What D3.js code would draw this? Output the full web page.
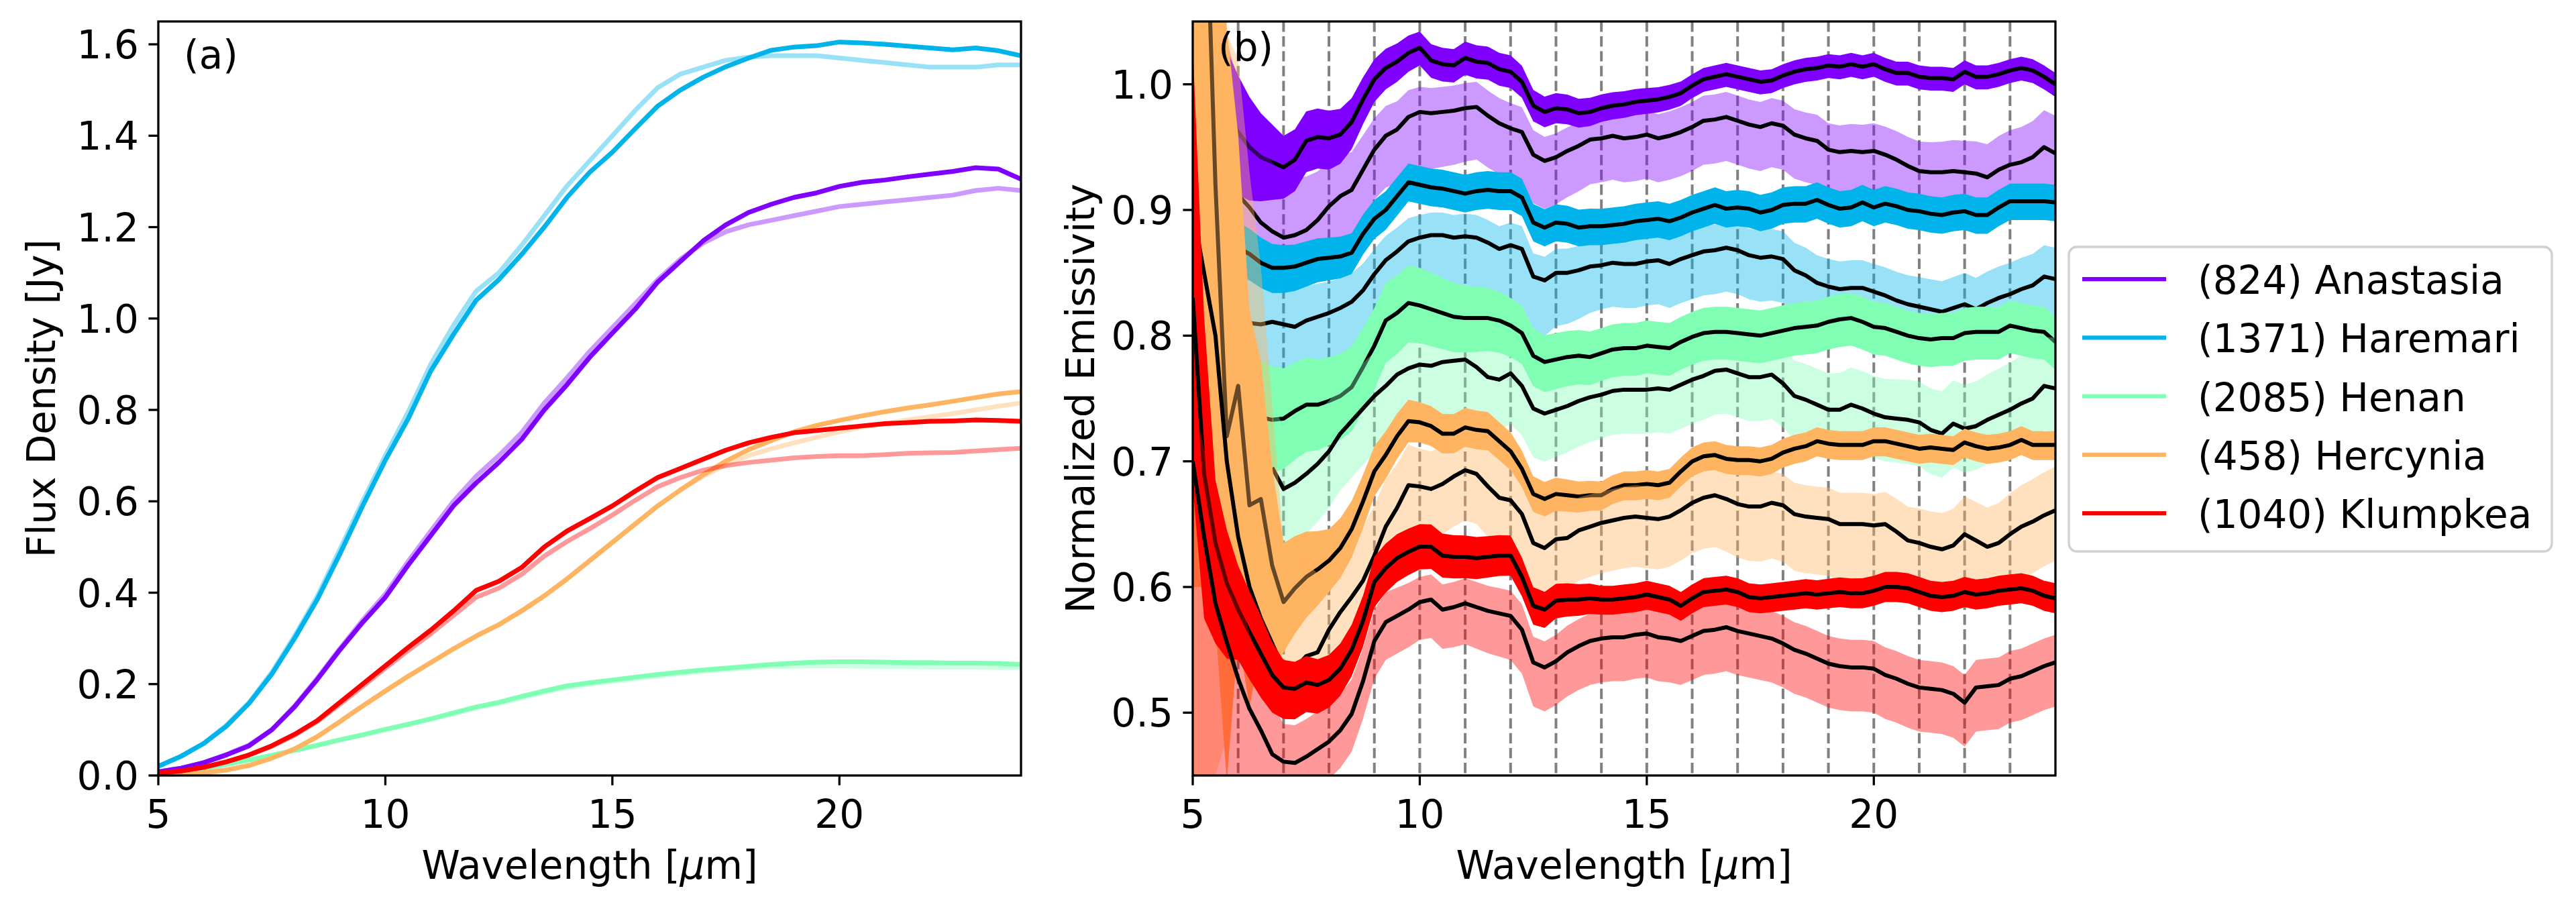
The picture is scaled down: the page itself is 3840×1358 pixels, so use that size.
<!DOCTYPE html>
<html><head><meta charset="utf-8">
<script src="https://cdn.jsdelivr.net/npm/d3@7/dist/d3.min.js"></script>
<style>
body{margin:0;background:#fff}
svg{display:block}
text{font-family:"DejaVu Sans",sans-serif;fill:#000}
</style>
</head><body>
<script>
// ---------------- DATA ----------------
const asteroids = ["(824) Anastasia","(1371) Haremari","(2085) Henan","(458) Hercynia","(1040) Klumpkea"];
const colors = ["#8000ff","#00b4eb","#80ffb4","#ffb462","#ff0000"];
const xTickValues = [5,10,15,20];
const yTicksA = [0.0,0.2,0.4,0.6,0.8,1.0,1.2,1.4,1.6];
const yTicksB = [0.5,0.6,0.7,0.8,0.9,1.0];
const featureLines = [6,7,8,9,10,11,12,13,14,15,16,17,18,19,20,21,22,23];

// panel (a): wavelength grid and flux densities [Jy]
const waveA = [5,5.5,6,6.5,7,7.5,8,8.5,9,9.5,10,10.5,11,11.5,12,12.5,13,13.5,14,14.5,15,15.5,16,16.5,17,17.5,18,18.5,19,19.5,20,20.5,21,21.5,22,22.5,23,23.5,24];
const fluxAnastasia  = [0.008,0.016,0.028,0.045,0.065,0.10,0.15,0.21,0.275,0.335,0.39,0.46,0.525,0.59,0.64,0.685,0.735,0.80,0.855,0.915,0.968,1.02,1.08,1.125,1.17,1.205,1.232,1.25,1.265,1.275,1.289,1.298,1.303,1.31,1.316,1.322,1.33,1.327,1.305];
const fluxAnastasiaL = [0.008,0.016,0.028,0.046,0.067,0.10,0.152,0.213,0.278,0.34,0.397,0.468,0.535,0.60,0.655,0.70,0.75,0.815,0.87,0.928,0.98,1.032,1.085,1.13,1.165,1.19,1.205,1.215,1.225,1.235,1.245,1.25,1.255,1.26,1.265,1.27,1.28,1.285,1.28];
const fluxHaremari   = [0.02,0.042,0.07,0.108,0.158,0.222,0.30,0.385,0.485,0.59,0.69,0.78,0.885,0.965,1.04,1.085,1.14,1.20,1.265,1.32,1.364,1.415,1.465,1.50,1.528,1.551,1.57,1.587,1.594,1.597,1.605,1.603,1.60,1.596,1.592,1.588,1.592,1.586,1.575];
const fluxHaremariL  = [0.02,0.042,0.07,0.11,0.16,0.226,0.305,0.392,0.495,0.60,0.70,0.795,0.90,0.985,1.06,1.10,1.16,1.225,1.29,1.345,1.40,1.455,1.505,1.535,1.55,1.565,1.572,1.575,1.575,1.575,1.57,1.565,1.56,1.555,1.55,1.55,1.55,1.555,1.555];
const fluxHenan      = [0.003,0.008,0.015,0.025,0.034,0.044,0.055,0.066,0.078,0.089,0.101,0.112,0.124,0.137,0.15,0.16,0.173,0.185,0.196,0.203,0.209,0.215,0.221,0.226,0.231,0.235,0.239,0.243,0.246,0.248,0.249,0.249,0.248,0.247,0.247,0.246,0.246,0.245,0.243];
const fluxHenanL     = [0.003,0.008,0.015,0.025,0.034,0.044,0.055,0.066,0.078,0.089,0.10,0.111,0.123,0.135,0.148,0.158,0.17,0.182,0.193,0.20,0.206,0.212,0.218,0.223,0.228,0.232,0.236,0.238,0.239,0.24,0.24,0.239,0.238,0.238,0.237,0.237,0.237,0.236,0.236];
const fluxHercynia   = [0.0,0.002,0.006,0.012,0.022,0.038,0.058,0.085,0.118,0.152,0.185,0.217,0.247,0.277,0.305,0.33,0.36,0.393,0.43,0.47,0.51,0.55,0.59,0.625,0.658,0.688,0.713,0.733,0.752,0.766,0.777,0.787,0.796,0.804,0.811,0.819,0.827,0.835,0.84];
const fluxHercyniaL  = [0.0,0.002,0.006,0.012,0.022,0.038,0.058,0.085,0.118,0.152,0.185,0.217,0.247,0.277,0.305,0.33,0.36,0.393,0.43,0.47,0.51,0.55,0.59,0.625,0.655,0.68,0.70,0.715,0.728,0.74,0.752,0.762,0.77,0.778,0.785,0.792,0.80,0.808,0.815];
const fluxKlumpkea   = [0.005,0.01,0.018,0.03,0.045,0.065,0.09,0.12,0.16,0.20,0.24,0.28,0.318,0.36,0.405,0.425,0.455,0.50,0.535,0.562,0.59,0.622,0.652,0.672,0.692,0.712,0.728,0.74,0.75,0.755,0.76,0.765,0.77,0.772,0.775,0.776,0.778,0.777,0.775];
const fluxKlumpkeaL  = [0.005,0.01,0.018,0.03,0.045,0.064,0.088,0.118,0.156,0.195,0.235,0.273,0.31,0.35,0.39,0.41,0.44,0.48,0.512,0.54,0.57,0.602,0.632,0.652,0.668,0.678,0.685,0.69,0.695,0.698,0.70,0.70,0.702,0.705,0.706,0.707,0.71,0.713,0.716];

// panel (b): wavelength grid and normalized emissivities (smoothed)
const waveB = [5,5.25,5.5,5.75,6,6.25,6.5,6.75,7,7.25,7.5,7.75,8,8.25,8.5,8.75,9,9.25,9.5,9.75,10,10.25,10.5,10.75,11,11.25,11.5,11.75,12,12.25,12.5,12.75,13,13.25,13.5,13.75,14,14.25,14.5,14.75,15,15.25,15.5,15.75,16,16.25,16.5,16.75,17,17.25,17.5,17.75,18,18.25,18.5,18.75,19,19.25,19.5,19.75,20,20.25,20.5,20.75,21,21.25,21.5,21.75,22,22.25,22.5,22.75,23,23.25,23.5,23.75,24];
const emisAnastasia = [null,null,null,0.975, 0.962,0.950,0.942,0.938, 0.934,0.940,0.955,0.958, 0.957,0.960,0.970,0.988, 1.004,1.013,1.018,1.025, 1.029,1.019,1.016,1.015, 1.021,1.018,1.017,1.012, 1.010,1.002,0.983,0.978, 0.981,0.980,0.977,0.978, 0.981,0.983,0.984,0.986, 0.987,0.988,0.990,0.993, 0.999,1.004,1.006,1.008, 1.006,1.004,1.002,1.003, 1.007,1.010,1.012,1.013, 1.015,1.014,1.016,1.014, 1.016,1.012,1.009,1.009, 1.006,1.005,1.005,1.004, 1.010,1.006,1.006,1.008, 1.011,1.013,1.011,1.006, 1.000];
const emisAnastasiaL = [null,null,null,0.930, 0.912,0.902,0.890,0.883, 0.878,0.880,0.884,0.892, 0.903,0.911,0.916,0.932, 0.948,0.959,0.964,0.974, 0.978,0.977,0.978,0.979, 0.981,0.982,0.975,0.969, 0.965,0.962,0.944,0.939, 0.942,0.947,0.951,0.956, 0.957,0.959,0.957,0.958, 0.960,0.957,0.959,0.962, 0.966,0.971,0.972,0.974, 0.971,0.968,0.966,0.969, 0.967,0.960,0.957,0.955, 0.948,0.946,0.947,0.946, 0.947,0.944,0.940,0.935, 0.931,0.930,0.930,0.931, 0.930,0.929,0.926,0.932, 0.936,0.938,0.942,0.950, 0.945];
const emisHaremari = [null,null,null,null, 0.870,0.865,0.858,0.854, 0.854,0.855,0.858,0.861, 0.862,0.863,0.866,0.881, 0.893,0.900,0.911,0.922, 0.920,0.918,0.917,0.915, 0.913,0.915,0.916,0.915, 0.915,0.910,0.890,0.886, 0.890,0.889,0.886,0.887, 0.887,0.888,0.889,0.891, 0.892,0.893,0.891,0.894, 0.898,0.901,0.904,0.901, 0.902,0.901,0.898,0.900, 0.904,0.905,0.905,0.908, 0.904,0.901,0.902,0.906, 0.902,0.905,0.903,0.900, 0.899,0.897,0.896,0.898, 0.899,0.896,0.896,0.902, 0.907,0.907,0.907,0.907, 0.906];
const emisHaremariL = [null,null,null,null, 0.809,0.810,0.809,0.811, 0.809,0.807,0.812,0.815, 0.818,0.822,0.827,0.836, 0.849,0.860,0.867,0.875, 0.878,0.880,0.880,0.878, 0.879,0.878,0.874,0.869, 0.872,0.869,0.847,0.844, 0.850,0.850,0.852,0.855, 0.856,0.858,0.857,0.857, 0.859,0.860,0.857,0.861, 0.864,0.867,0.868,0.870, 0.868,0.864,0.862,0.863, 0.861,0.852,0.848,0.842, 0.839,0.837,0.838,0.838, 0.835,0.832,0.828,0.825, 0.823,0.821,0.819,0.822, 0.825,0.821,0.826,0.830, 0.833,0.837,0.840,0.847, 0.845];
const emisHenan = [null,null,null,null, null,null,0.735,0.733, 0.734,0.740,0.745,0.745, 0.748,0.752,0.759,0.775, 0.792,0.812,0.818,0.826, 0.824,0.821,0.818,0.815, 0.814,0.814,0.814,0.812, 0.808,0.802,0.784,0.779, 0.781,0.783,0.784,0.783, 0.786,0.789,0.790,0.790, 0.792,0.791,0.790,0.795, 0.799,0.802,0.803,0.803, 0.802,0.801,0.800,0.802, 0.804,0.806,0.807,0.808, 0.811,0.813,0.814,0.811, 0.807,0.806,0.803,0.800, 0.798,0.797,0.798,0.798, 0.802,0.803,0.803,0.803, 0.808,0.806,0.804,0.803, 0.795];
const emisHenanL = [null,null,null,null, null,null,null,0.695, 0.678,0.683,0.690,0.698, 0.708,0.722,0.732,0.742, 0.752,0.760,0.769,0.774, 0.777,0.776,0.779,0.780, 0.781,0.775,0.767,0.765, 0.770,0.760,0.742,0.738, 0.741,0.744,0.748,0.751, 0.753,0.756,0.757,0.757, 0.757,0.758,0.757,0.761, 0.765,0.768,0.772,0.773, 0.770,0.767,0.767,0.769, 0.762,0.752,0.749,0.745, 0.741,0.741,0.745,0.742, 0.738,0.735,0.734,0.733, 0.731,0.725,0.722,0.730, 0.726,0.728,0.733,0.737, 0.741,0.746,0.750,0.760, 0.758];
const emisHercynia = [1.45,1.20,0.92,0.72, 0.76,0.665,0.67,0.617, 0.588,0.599,0.608,0.614, 0.621,0.631,0.646,0.668, 0.692,0.705,0.720,0.732, 0.731,0.728,0.722,0.722, 0.727,0.725,0.724,0.716, 0.708,0.694,0.674,0.670, 0.674,0.673,0.672,0.673, 0.673,0.678,0.681,0.681, 0.682,0.681,0.683,0.692, 0.700,0.704,0.705,0.702, 0.701,0.701,0.700,0.702, 0.707,0.710,0.712,0.716, 0.714,0.713,0.713,0.713, 0.716,0.716,0.714,0.712, 0.710,0.711,0.710,0.709, 0.715,0.712,0.710,0.711, 0.713,0.717,0.713,0.713, 0.713];
const emisHercyniaL = [0.90,0.85,0.80,0.70, 0.64,0.60,0.575,0.555, 0.535,0.535,0.545,0.548, 0.566,0.580,0.592,0.605, 0.625,0.648,0.663,0.681, 0.680,0.678,0.682,0.688, 0.693,0.690,0.680,0.671, 0.669,0.658,0.635,0.631, 0.638,0.639,0.645,0.648, 0.651,0.653,0.655,0.656, 0.655,0.654,0.656,0.661, 0.667,0.671,0.673,0.670, 0.666,0.664,0.664,0.667, 0.665,0.658,0.656,0.655, 0.654,0.650,0.650,0.650, 0.649,0.650,0.644,0.637, 0.635,0.632,0.630,0.633, 0.642,0.637,0.632,0.635, 0.642,0.648,0.652,0.657, 0.661];
const emisKlumpkea = [0.83,0.69,0.635,0.603, 0.582,0.564,0.547,0.530, 0.520,0.519,0.524,0.522, 0.526,0.535,0.550,0.573, 0.604,0.615,0.623,0.628, 0.632,0.632,0.625,0.624, 0.624,0.623,0.624,0.625, 0.625,0.608,0.585,0.582, 0.589,0.590,0.590,0.591, 0.590,0.590,0.591,0.592, 0.594,0.592,0.590,0.585, 0.591,0.596,0.597,0.598, 0.596,0.592,0.591,0.592, 0.593,0.594,0.595,0.594, 0.595,0.596,0.595,0.595, 0.597,0.600,0.600,0.599, 0.596,0.593,0.592,0.593, 0.596,0.594,0.595,0.597, 0.598,0.599,0.597,0.593, 0.591];
const emisKlumpkeaL = [0.70,0.64,0.587,0.556, 0.527,0.503,0.486,0.467, 0.461,0.460,0.465,0.471, 0.477,0.486,0.499,0.525, 0.557,0.572,0.577,0.582, 0.588,0.590,0.582,0.584, 0.587,0.584,0.581,0.579, 0.577,0.566,0.540,0.536, 0.541,0.548,0.553,0.557, 0.559,0.560,0.560,0.562, 0.563,0.560,0.559,0.557, 0.561,0.565,0.566,0.568, 0.565,0.563,0.561,0.559, 0.555,0.550,0.547,0.543, 0.539,0.537,0.536,0.536, 0.535,0.530,0.527,0.523, 0.520,0.519,0.518,0.515, 0.508,0.520,0.521,0.522, 0.527,0.529,0.533,0.537, 0.540];

// panel (b): scatter envelope of the raw spectra around the smoothed curves (emissivity units)
const scatterNodes = [5,5.5,6,6.5,7,8,9,10,12,14,16,18,20,22,24];
const scatterUpAnastasia    = [0.06,0.06,0.045,0.035,0.025,0.022,0.016,0.013,0.013,0.011,0.009,0.009,0.009,0.009,0.009];
const scatterDownAnastasia  = [0.06,0.06,0.05,0.035,0.025,0.025,0.018,0.014,0.013,0.011,0.010,0.010,0.010,0.010,0.010];
const scatterUpAnastasiaL   = [0.12,0.12,0.09,0.06,0.05,0.035,0.025,0.02,0.02,0.018,0.02,0.02,0.022,0.025,0.03];
const scatterDownAnastasiaL = [0.05,0.05,0.05,0.035,0.03,0.035,0.04,0.045,0.04,0.035,0.035,0.035,0.035,0.035,0.035];
const scatterUpHaremari     = [0.02,0.02,0.02,0.02,0.018,0.016,0.015,0.015,0.015,0.014,0.014,0.014,0.014,0.014,0.014];
const scatterDownHaremari   = [0.022,0.022,0.022,0.02,0.02,0.018,0.016,0.015,0.015,0.015,0.015,0.015,0.015,0.015,0.015];
const scatterUpHaremariL    = [0.04,0.04,0.04,0.035,0.03,0.025,0.02,0.018,0.018,0.02,0.02,0.022,0.022,0.025,0.025];
const scatterDownHaremariL  = [0.05,0.05,0.05,0.045,0.04,0.045,0.05,0.05,0.05,0.035,0.035,0.035,0.035,0.035,0.035];
const scatterUpHenan        = [0.05,0.05,0.05,0.045,0.04,0.035,0.03,0.03,0.022,0.02,0.02,0.02,0.02,0.02,0.02];
const scatterDownHenan      = [0.05,0.05,0.05,0.045,0.04,0.035,0.035,0.03,0.025,0.022,0.022,0.022,0.022,0.022,0.022];
const scatterUpHenanL       = [0.05,0.05,0.05,0.05,0.05,0.04,0.035,0.03,0.03,0.028,0.028,0.028,0.03,0.035,0.04];
const scatterDownHenanL     = [0.05,0.05,0.05,0.05,0.05,0.045,0.045,0.045,0.04,0.035,0.035,0.035,0.035,0.035,0.035];
const scatterUpHercynia     = [0.3,0.45,0.2,0.11,0.047,0.025,0.02,0.016,0.015,0.011,0.011,0.011,0.011,0.011,0.011];
const scatterDownHercynia   = [0.85,0.35,0.2,0.12,0.04,0.025,0.02,0.016,0.015,0.012,0.012,0.012,0.012,0.012,0.012];
const scatterUpHercyniaL    = [0.3,0.3,0.38,0.28,0.1,0.05,0.04,0.03,0.03,0.025,0.025,0.025,0.025,0.03,0.035];
const scatterDownHercyniaL  = [0.45,0.35,0.09,0.05,0.04,0.04,0.04,0.04,0.04,0.04,0.04,0.045,0.045,0.045,0.04];
const scatterUpKlumpkea     = [0.2,0.05,0.035,0.03,0.022,0.02,0.02,0.018,0.016,0.011,0.011,0.011,0.012,0.012,0.012];
const scatterDownKlumpkea   = [0.15,0.08,0.04,0.035,0.025,0.022,0.02,0.018,0.016,0.012,0.012,0.012,0.012,0.012,0.012];
const scatterUpKlumpkeaL    = [0.05,0.09,0.07,0.05,0.03,0.03,0.025,0.02,0.02,0.022,0.022,0.022,0.022,0.022,0.022];
const scatterDownKlumpkeaL  = [0.3,0.15,0.09,0.045,0.03,0.03,0.03,0.03,0.035,0.035,0.035,0.035,0.035,0.035,0.035];

// ---------------- CHART ----------------
const W = 3840, H = 1358;
const svg = d3.select("body").append("svg").attr("width", W).attr("height", H);
const FS = 58, TICK = 14.6, PAD = 14.6, SPINE = 3.3;

const pA = {l:236, r:1522, t:32, b:1156};
const pB = {l:1778, r:3064, t:32, b:1156};
const xA = d3.scaleLinear().domain([5,24]).range([pA.l,pA.r]);
const yA = d3.scaleLinear().domain([0,1.65]).range([pA.b,pA.t]);
const xB = d3.scaleLinear().domain([5,24]).range([pB.l,pB.r]);
const yB = d3.scaleLinear().domain([0.45,1.05]).range([pB.b,pB.t]);

const defs = svg.append("defs");
defs.append("clipPath").attr("id","clipA").append("rect").attr("x",pA.l).attr("y",pA.t).attr("width",pA.r-pA.l).attr("height",pA.b-pA.t);
defs.append("clipPath").attr("id","clipB").append("rect").attr("x",pB.l).attr("y",pB.t).attr("width",pB.r-pB.l).attr("height",pB.b-pB.t);

// ---- panel (a)
const gA = svg.append("g").attr("clip-path","url(#clipA)");
const fluxPairs = [
  [fluxAnastasia, fluxAnastasiaL],
  [fluxHaremari, fluxHaremariL],
  [fluxHenan, fluxHenanL],
  [fluxHercynia, fluxHercyniaL],
  [fluxKlumpkea, fluxKlumpkeaL]
];
const lineA = d3.line().x(d=>xA(d[0])).y(d=>yA(d[1])).curve(d3.curveLinear);
fluxPairs.forEach((pair,i)=>{
  gA.append("path").datum(waveA.map((w,k)=>[w,pair[0][k]]))
    .attr("d",lineA).attr("fill","none").attr("stroke",colors[i])
    .attr("stroke-width",7).attr("stroke-linejoin","round");
  gA.append("path").datum(waveA.map((w,k)=>[w,pair[1][k]]))
    .attr("d",lineA).attr("fill","none").attr("stroke",colors[i]).attr("stroke-opacity",0.4)
    .attr("stroke-width",7).attr("stroke-linejoin","round");
});

// ---- panel (b)
const gB = svg.append("g").attr("clip-path","url(#clipB)");
gB.selectAll("line.feat").data(featureLines).enter().append("line")
  .attr("x1",d=>xB(d)).attr("x2",d=>xB(d)).attr("y1",pB.t).attr("y2",pB.b)
  .attr("stroke","#808080").attr("stroke-width",4).attr("stroke-dasharray","15.4,6.7");

const emisSets = [
  {v:emisAnastasia, up:scatterUpAnastasia, dn:scatterDownAnastasia, c:0, light:false},
  {v:emisAnastasiaL, up:scatterUpAnastasiaL, dn:scatterDownAnastasiaL, c:0, light:true},
  {v:emisHaremari, up:scatterUpHaremari, dn:scatterDownHaremari, c:1, light:false},
  {v:emisHaremariL, up:scatterUpHaremariL, dn:scatterDownHaremariL, c:1, light:true},
  {v:emisHenan, up:scatterUpHenan, dn:scatterDownHenan, c:2, light:false},
  {v:emisHenanL, up:scatterUpHenanL, dn:scatterDownHenanL, c:2, light:true},
  {v:emisHercynia, up:scatterUpHercynia, dn:scatterDownHercynia, c:3, light:false},
  {v:emisHercyniaL, up:scatterUpHercyniaL, dn:scatterDownHercyniaL, c:3, light:true},
  {v:emisKlumpkea, up:scatterUpKlumpkea, dn:scatterDownKlumpkea, c:4, light:false},
  {v:emisKlumpkeaL, up:scatterUpKlumpkeaL, dn:scatterDownKlumpkeaL, c:4, light:true}
];
const lineB = d3.line().defined(d=>d[1]!=null).x(d=>xB(d[0])).y(d=>yB(d[1]));
emisSets.forEach(s=>{
  const up = d3.scaleLinear().domain(scatterNodes).range(s.up).clamp(true);
  const dn = d3.scaleLinear().domain(scatterNodes).range(s.dn).clamp(true);
  const pts = waveB.map((w,k)=>[w,s.v[k]]);
  const area = d3.area().defined(d=>d[1]!=null)
    .x(d=>xB(d[0])).y0(d=>yB(d[1]-dn(d[0]))).y1(d=>yB(d[1]+up(d[0])));
  gB.append("path").datum(pts).attr("d",area)
    .attr("fill",colors[s.c]).attr("fill-opacity", s.light?0.4:1);
  gB.append("path").datum(pts).attr("d",lineB).attr("fill","none")
    .attr("stroke","#000").attr("stroke-width",6).attr("stroke-linejoin","round");
});

// ---- axes
function drawAxes(p, x, y, yTicks, yFmt){
  const g = svg.append("g");
  g.append("rect").attr("x",p.l).attr("y",p.t).attr("width",p.r-p.l).attr("height",p.b-p.t)
    .attr("fill","none").attr("stroke","#000").attr("stroke-width",SPINE);
  xTickValues.forEach(v=>{
    g.append("line").attr("x1",x(v)).attr("x2",x(v)).attr("y1",p.b).attr("y2",p.b+TICK)
      .attr("stroke","#000").attr("stroke-width",SPINE);
    g.append("text").attr("x",x(v)).attr("y",1234).attr("text-anchor","middle")
      .attr("font-size",FS).text(v);
  });
  yTicks.forEach(v=>{
    g.append("line").attr("x1",p.l-TICK).attr("x2",p.l).attr("y1",y(v)).attr("y2",y(v))
      .attr("stroke","#000").attr("stroke-width",SPINE);
    g.append("text").attr("x",p.l-TICK-PAD).attr("y",y(v)+21).attr("text-anchor","end")
      .attr("font-size",FS).text(yFmt(v));
  });
  const xl = g.append("text").attr("x",(p.l+p.r)/2).attr("y",1310).attr("text-anchor","middle").attr("font-size",FS);
  xl.append("tspan").text("Wavelength [");
  xl.append("tspan").attr("font-style","italic").text("μ");
  xl.append("tspan").text("m]");
}
drawAxes(pA,xA,yA,yTicksA,d3.format(".1f"));
drawAxes(pB,xB,yB,yTicksB,d3.format(".1f"));

svg.append("text").attr("transform","translate(82,594) rotate(-90)").attr("text-anchor","middle")
  .attr("font-size",FS).text("Flux Density [Jy]");
svg.append("text").attr("transform","translate(1631,594) rotate(-90)").attr("text-anchor","middle")
  .attr("font-size",FS).text("Normalized Emissivity");

svg.append("text").attr("x",274).attr("y",102).attr("font-size",FS).text("(a)");
svg.append("text").attr("x",1816).attr("y",91).attr("font-size",FS).text("(b)");

// ---- legend
const lg = svg.append("g");
lg.append("rect").attr("x",3084).attr("y",368).attr("width",720).attr("height",454).attr("rx",12)
  .attr("fill","#fff").attr("stroke","#d0d0d0").attr("stroke-width",3.3);
asteroids.forEach((name,i)=>{
  const yy = 416 + i*87.3;
  lg.append("line").attr("x1",3104).attr("x2",3229).attr("y1",yy).attr("y2",yy)
    .attr("stroke",colors[i]).attr("stroke-width",6.25);
  lg.append("text").attr("x",3276).attr("y",yy+22).attr("font-size",FS).text(name);
});
</script>
</body></html>
